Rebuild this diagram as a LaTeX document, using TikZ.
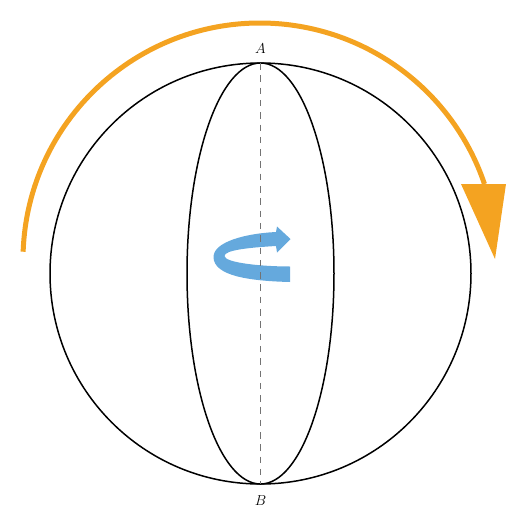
\documentclass[tikz,border=0pt]{standalone}
\usetikzlibrary{positioning}

\begin{document}
\begin{tikzpicture}[x=1pt,y=-1pt]
\colorlet{kugelorange}{rgb,255:red,244;green,163;blue,33}
\colorlet{drehblau}{rgb,255:red,101;green,169;blue,221}
\tikzstyle{rand}=[draw=black,line width=1.5pt]
\tikzstyle{achse}=[draw=black!55,line width=1.6pt,dash pattern=on 6.5pt off 5.8pt]
\tikzstyle{pol}=[font=\fontsize{15}{15}\selectfont,inner sep=1pt]
\useasboundingbox (0,0) rectangle (527,528);

\coordinate (M) at (260.5,273.5);
\node[pol] (A) at (260.5,49) {$A$};
\node[pol] (B) at (260.5,501) {$B$};

% Kugel mit Meridian
\draw[rand] (M) circle (210.5pt);
\draw[rand] (M) ellipse (73.5pt and 210.5pt);

% grosser Pfeil aussen
\draw[kugelorange,line width=5pt] (260,260) ++(178:237pt) arc[start angle=178,end angle=18.7,radius=237pt];
\fill[kugelorange] (461,184) -- (506,184) -- (495,259) -- cycle;

% Drehpfeil in der Mitte
\fill[drehblau] (290,282) .. controls (250,281) and (213.5,276) .. (213.5,257)
  .. controls (213.5,242) and (245,233.5) .. (276,232) -- (277,226.5) -- (290.5,239)
  -- (277,252.5) -- (276,246) .. controls (250,247.5) and (224.5,250) .. (224.5,256)
  .. controls (224.5,262.5) and (260,266.5) .. (290,266.5) -- cycle;

\draw[achse] (M |- 0,63) -- (M |- 0,484);
\end{tikzpicture}
\end{document}
